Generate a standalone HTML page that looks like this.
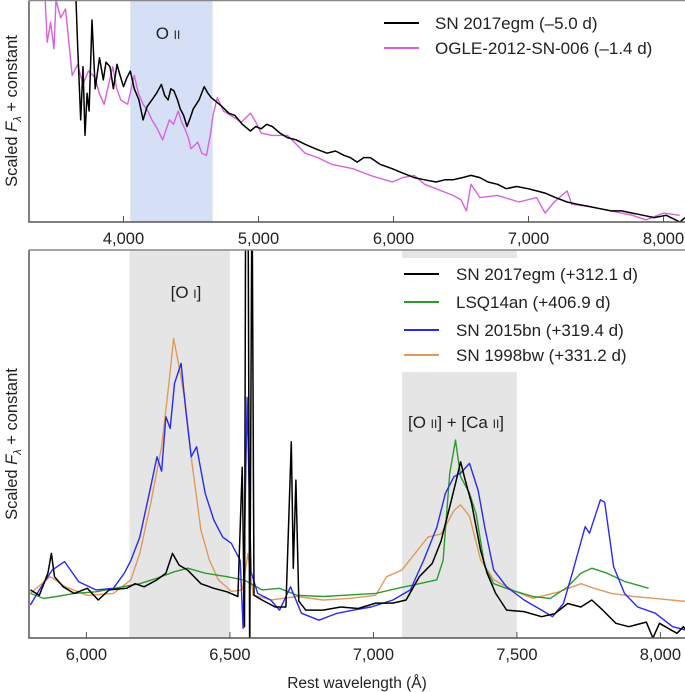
<!DOCTYPE html>
<html><head><meta charset="utf-8"><style>
html,body{margin:0;padding:0;background:#fff;}
svg{display:block;font-family:"Liberation Sans",sans-serif;}
</style></head><body>
<svg id="chart" width="685" height="692" viewBox="0 0 685 692" xmlns="http://www.w3.org/2000/svg">
<defs>
<clipPath id="clipTop"><rect x="29" y="0" width="656" height="222"/></clipPath>
<clipPath id="clipBot"><rect x="29" y="250" width="656" height="388"/></clipPath>
</defs>
<g id="topPanel"></g>
<g id="botPanel"></g>
<g font-family="Liberation Sans, sans-serif" fill="#222">
<text transform="translate(17,111) rotate(-90)" text-anchor="middle" font-size="16.5">Scaled <tspan font-style="italic">F</tspan><tspan font-style="italic" font-size="11" dy="4">λ</tspan><tspan dy="-4"> + constant</tspan></text>
<text transform="translate(17,444) rotate(-90)" text-anchor="middle" font-size="16.5">Scaled <tspan font-style="italic">F</tspan><tspan font-style="italic" font-size="11" dy="4">λ</tspan><tspan dy="-4"> + constant</tspan></text>
<text x="357" y="688" text-anchor="middle" font-size="15.5">Rest wavelength (Å)</text>
<text x="168" y="39" text-anchor="middle" font-size="17">O <tspan font-size="12">II</tspan></text>
<text x="186" y="298" text-anchor="middle" font-size="17">[O <tspan font-size="12">I</tspan>]</text>
<text x="456" y="428" text-anchor="middle" font-size="17">[O <tspan font-size="12">II</tspan>] + [Ca <tspan font-size="12">II</tspan>]</text>
<g font-size="17">
<line x1="384" y1="23" x2="419" y2="23" stroke="#000" stroke-width="2"/>
<text x="435" y="29">SN 2017egm (–5.0 d)</text>
<line x1="384" y1="48" x2="419" y2="48" stroke="#d763dc" stroke-width="2"/>
<text x="435" y="54">OGLE-2012-SN-006 (–1.4 d)</text>
</g>
<g font-size="17">
<line x1="404" y1="274" x2="439" y2="274" stroke="#000" stroke-width="2"/>
<text x="456" y="280">SN 2017egm (+312.1 d)</text>
<line x1="404" y1="302" x2="439" y2="302" stroke="#2e9a2e" stroke-width="2"/>
<text x="456" y="308">LSQ14an (+406.9 d)</text>
<line x1="404" y1="330" x2="439" y2="330" stroke="#2a2af0" stroke-width="2"/>
<text x="456" y="336">SN 2015bn (+319.4 d)</text>
<line x1="404" y1="355" x2="439" y2="355" stroke="#e09a5e" stroke-width="2"/>
<text x="456" y="361">SN 1998bw (+331.2 d)</text>
</g>
</g>
</svg>
<script>
// ---- Top panel data (wavelength Å, scaled flux 0-100) ----
const topBlackWave = [3648,3660,3683,3700,3715,3730,3745,3767,3790,3822,3850,3870,3900,3925,3952,3975,4000,4025,4050,4080,4114,4145,4175,4210,4245,4281,4305,4330,4350,4374,4400,4420,4445,4470,4495,4517,4560,4598,4625,4650,4690,4730,4780,4825,4880,4940,4980,5020,5060,5102,5160,5214,5280,5345,5420,5508,5570,5635,5680,5731,5780,5828,5900,5990,6070,6153,6230,6315,6380,6441,6510,6574,6640,6700,6770,6835,6910,6997,7060,7123,7200,7286,7360,7449,7530,7612,7690,7768,7850,7930,8020,8122,8160];
const topBlackFlux = [100,80,46,70,39,58,50,91,60,74,64,72,70,60,71,66,61,65,68,60,55,46,52,55,58,62,57,55,60,59,55,51,48,43,47,51,55,61,58,56,54,52,49,48,44,41,43,42,44,43,40,38,37,35,33,31,32,30,29,27,29,29,26,24,22,20,19,18,19,19,20,21,20,18,17,15,16,15,14,13,11,9,8,7,6,5,5,4,3,2,3,0,2];
const topMagWave = [3420,3435,3460,3485,3500,3535,3570,3620,3660,3700,3740,3790,3820,3856,3890,3920,3950,3980,4030,4080,4110,4145,4180,4210,4250,4290,4340,4370,4405,4430,4455,4480,4500,4550,4580,4615,4645,4663,4695,4740,4793,4875,4940,4980,5020,5102,5214,5280,5345,5440,5540,5700,5828,5990,6070,6153,6230,6315,6441,6500,6540,6574,6640,6770,6930,7060,7123,7190,7286,7320,7449,7612,7768,7870,8000,8120];
const topMagFlux = [100,81,90,78,100,92,96,66,71,62,68,65,58,53,62,70,60,55,53,66,58,53,50,46,42,37,46,44,50,45,42,38,33,36,31,30,40,48,56,50,48,45,49,45,40,39,39,35,31,29,26,24,21,18,20,21,17,15,12,10,5,17,11,12,9,11,4,9,14,8,7,5,3,1,4,3];
// ---- Bottom panel data (scaled flux 0-100) ----
const botBlackWave = [5805,5836,5866,5878,5889,5919,5957,6003,6041,6079,6140,6170,6201,6246,6277,6300,6323,6353,6399,6444,6490,6528,6543,6551,6555,6563,6569,6577,6584,6612,6658,6695,6714,6721,6730,6740,6764,6825,6886,6947,7008,7068,7114,7160,7205,7236,7266,7289,7304,7320,7342,7373,7396,7426,7464,7525,7586,7632,7677,7723,7761,7799,7845,7890,7951,7974,7997,8027,8058,8080,8090];
const botBlackFlux = [12.4,11,16.7,21.8,15.8,13.2,11.5,12.8,9.8,12.4,12.8,14,13.2,15,16.7,21.8,18.8,17.5,14,12.8,11.9,10.7,44,2.9,120,120,-5,120,11,9.8,8,8,50.6,18,40.7,9.5,7.2,7.2,8,7.6,9,9,9.8,15.8,19.2,25,33.8,40.7,45.4,40.7,34.7,22.7,16.7,11.5,7.2,6.8,5.5,6.3,8.9,8,9.8,7.2,3.8,2.9,4.1,0,3.8,2.5,1.2,2.9,2];
const botGreenWave = [5805,5851,5896,5957,6033,6125,6186,6246,6307,6353,6414,6490,6551,6612,6673,6734,6825,6916,7008,7084,7160,7221,7243,7266,7286,7304,7335,7358,7388,7419,7479,7555,7616,7677,7723,7761,7814,7875,7959];
const botGreenFlux = [11.5,10.2,10.7,11.5,11.9,13.2,14,15.4,17.1,18,16.7,15.8,14.9,12.4,12.8,11,10.7,11.1,11.5,12.8,14,15,20,42.4,51,41.6,37.3,32,18.4,14,12.4,10.7,10.2,13.2,16.7,18,16.7,14.6,12.8];
const botBlueWave = [5805,5836,5881,5924,5973,6033,6094,6132,6155,6186,6224,6246,6262,6277,6292,6307,6330,6345,6365,6384,6414,6444,6475,6505,6536,6546,6560,6574,6597,6642,6673,6711,6749,6810,6870,6931,6992,7068,7129,7175,7221,7251,7281,7304,7335,7365,7388,7419,7464,7525,7586,7624,7662,7693,7738,7753,7791,7806,7837,7875,7921,7982,8043,8090];
const botBlueFlux = [8.5,12.4,17.5,19.7,14.5,12.4,12.8,16.7,20,26,39,46.7,43,57,54,65.6,70.8,59.6,46.7,49.3,37.3,30.4,26,24.4,20,2.5,62,17,11.5,9.8,7.2,13.2,6.4,4.6,6.3,7.2,8,9.8,12.4,20,28.5,37.3,41.6,42.5,45,38,28.5,17.5,13.2,9.8,7.2,5.5,8.9,16.7,28.7,27,35.6,35,18.4,11.5,8,6.4,2.9,2];
const botOrangeWave = [5805,5874,5927,6003,6094,6155,6186,6224,6262,6289,6304,6323,6345,6368,6399,6429,6460,6505,6543,6563,6581,6642,6734,6825,6916,7008,7046,7099,7145,7190,7236,7282,7304,7335,7373,7419,7494,7555,7647,7723,7769,7830,7906,7982,8090];
const botOrangeFlux = [11.5,15.8,13.2,11,11.5,15,21.8,34.7,49.3,66.5,77.2,70,60.5,45,27.8,20,15,12,12.4,21.8,11.1,9.8,10.7,9.8,10.2,11,15.8,17.5,21.8,26,26.8,33,34.3,31.4,20.2,15,12,10.2,11.9,14,12.8,11.5,10.7,10.2,9.4];
const topTicks = [4000,5000,6000,7000,8000];
const botTicks = [6000,6500,7000,7500,8000];
const tickText = {4000:"4,000",5000:"5,000",6000:"6,000",7000:"7,000",8000:"8,000",6500:"6,500",7500:"7,500"};

const NS="http://www.w3.org/2000/svg";
function mk(tag, attrs, parent){const e=document.createElementNS(NS,tag);for(const k in attrs)e.setAttribute(k,attrs[k]);parent.appendChild(e);return e;}
const xTop = w => 29 + (w-3300)*0.135;
const yTop = v => 222 - v*2.22;
const xBot = w => 29 + (w-5800)*0.287;
const yBot = v => 638 - v*3.88;

const topG=document.getElementById('topPanel'), botG=document.getElementById('botPanel');

let r=mk('rect',{x:xTop(4050),y:0,width:xTop(4660)-xTop(4050),height:222,fill:'#d5dff6'},topG);


r=mk('rect',{x:xBot(6150),y:250,width:xBot(6500)-xBot(6150),height:388,fill:'#e5e5e5'},botG);


r=mk('rect',{x:xBot(7100),y:250,width:xBot(7500)-xBot(7100),height:388,fill:'#e5e5e5'},botG);


r=mk('rect',{x:395,y:258,width:290,height:114,fill:'#fff'},botG);



function drawLine(wave, flux, xf, yf, color, width, parent, clip, name){
  let d='';
  for(let i=0;i<wave.length;i++){d+=(i?'L':'M')+xf(wave[i]).toFixed(1)+' '+yf(flux[i]).toFixed(1);}
  const p=mk('path',{d:d,fill:'none',stroke:color,'stroke-width':width,'stroke-linejoin':'round','clip-path':'url(#'+clip+')'},parent);
  
  
}
drawLine(topMagWave,topMagFlux,xTop,yTop,'#d763dc',1.4,topG,'clipTop','ogle-2012-sn-006-spectrum');
drawLine(topBlackWave,topBlackFlux,xTop,yTop,'#000',1.5,topG,'clipTop','sn-2017egm-early-spectrum');
drawLine(botOrangeWave,botOrangeFlux,xBot,yBot,'#e09a5e',1.4,botG,'clipBot','sn-1998bw-spectrum');
drawLine(botGreenWave,botGreenFlux,xBot,yBot,'#2e9a2e',1.4,botG,'clipBot','lsq14an-spectrum');
drawLine(botBlueWave,botBlueFlux,xBot,yBot,'#2a2af0',1.4,botG,'clipBot','sn-2015bn-spectrum');
drawLine(botBlackWave,botBlackFlux,xBot,yBot,'#000',1.5,botG,'clipBot','sn-2017egm-late-spectrum');

function axes(parent, x0, y0, y1, ticks, xf, name){
  let a=mk('path',{d:`M${x0} ${y0}V${y1}H685`,fill:'none',stroke:'#555','stroke-width':1.5},parent);
  
  
  a=mk('line',{x1:x0,y1:y0,x2:685,y2:y0,stroke:'#888','stroke-width':1.5},parent);
  
  
  ticks.forEach(t=>{
    const x=xf(t);
    const tk=mk('line',{x1:x,y1:y1,x2:x,y2:y1-6,stroke:'#555','stroke-width':1},parent);
    
    
    const tx=mk('text',{x:x,y:y1+22,'text-anchor':'middle','font-size':16.5,fill:'#222'},parent);
    tx.textContent=tickText[t];
    
    
  });
}
axes(topG,29,0.5,222,topTicks,xTop,'top-axis');
axes(botG,29,250,638,botTicks,xBot,'bottom-axis');
</script>
</body></html>
